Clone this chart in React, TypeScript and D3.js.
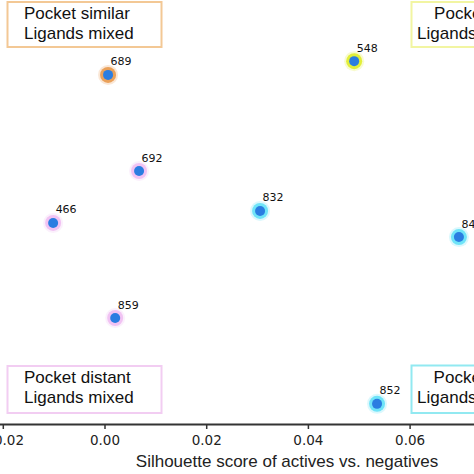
import * as d3 from 'd3';

// silhouette of actives vs. negatives (x) and pocket similarity score (y) per target
const targetIds = ['689', '548', '692', '466', '832', '849', '859', '852'];
const activesScore = [0.0006, 0.049, 0.0067, -0.0102, 0.0305, 0.0696, 0.002, 0.0535];
const pocketScore = [0.0388, 0.0427, 0.0116, -0.0031, 0.0003, -0.0071, -0.030, -0.0543];
const targetGroup = ['simMixed', 'simSep', 'distMixed', 'distMixed', 'distSep', 'distSep', 'distMixed', 'distSep'];

const xTicks = [-0.02, 0, 0.02, 0.04, 0.06];

const groupKeys = ['simMixed', 'simSep', 'distMixed', 'distSep'];
const groupLines = [
  ['Pocket similar', 'Ligands mixed'],
  ['Pocket similar', 'Ligands separated'],
  ['Pocket distant', 'Ligands mixed'],
  ['Pocket distant', 'Ligands separated'],
];

const ringColor: Record<string, string> = {
  simMixed: '#eaa15a',
  simSep: '#e2ef3a',
  distMixed: '#f1c3f3',
  distSep: '#6fe4f8',
};
const boxColor: Record<string, string> = {
  simMixed: '#f3c895',
  simSep: '#f2f5a2',
  distMixed: '#f2cdf2',
  distSep: '#92e9f1',
};

const W = 474;
const H = 474;
const axisY = 424.5;

export default function App() {
  const x = d3.scaleLinear().domain([-0.02, 0.06]).range([3.3, 410.1]);
  const y = d3.scaleLinear().domain([-0.06, 0.06]).range([424, 0]);
  const sans = 'Liberation Sans, Arial, sans-serif';
  const dejavu = 'DejaVu Sans, sans-serif';

  // quadrant boxes: left ones flush at the plot's left, right ones past the 0.06 tick
  const boxLayout: Record<string, { x: number; y: number; w: number; h: number; anchor: string; tx: number }> = {
    simMixed: { x: 7.5, y: 2, w: 154, h: 45, anchor: 'start', tx: 24 },
    simSep: { x: 411.5, y: 2, w: 152, h: 45, anchor: 'middle', tx: 487 },
    distMixed: { x: 7.5, y: 366, w: 154, h: 47, anchor: 'start', tx: 24 },
    distSep: { x: 411.5, y: 365.5, w: 152, h: 47.5, anchor: 'middle', tx: 487 },
  };

  return (
    <svg
      width={W}
      height={H}
      style={{ position: 'absolute', top: 0, left: 0, background: '#fff' }}
    >
      {/* quadrant legend boxes */}
      {groupKeys.map((k, i) => {
        const b = boxLayout[k];
        return (
          <g key={k}>
            <rect x={b.x} y={b.y} width={b.w} height={b.h} fill="#fff" stroke={boxColor[k]} strokeWidth={2} />
            {groupLines[i].map((line, j) => (
              <text
                key={j}
                x={b.tx}
                y={b.y + 17 + j * 20}
                fontFamily={sans}
                fontSize={17}
                textAnchor={b.anchor}
                fill="#111"
              >
                {line}
              </text>
            ))}
          </g>
        );
      })}

      {/* points */}
      {targetIds.map((id, i) => {
        const cx = x(activesScore[i]);
        const cy = y(pocketScore[i]);
        const c = ringColor[targetGroup[i]];
        return (
          <g key={id}>
            <circle cx={cx} cy={cy} r={10} fill={c} opacity={0.25} />
            <circle cx={cx} cy={cy} r={8} fill={c} />
            <circle cx={cx} cy={cy} r={5} fill="#2a7de1" />
            <text x={cx + 2.5} y={cy - 9.5} fontFamily={dejavu} fontSize={11} fill="#111">
              {id}
            </text>
          </g>
        );
      })}

      {/* x axis */}
      <line x1={0} x2={W} y1={axisY} y2={axisY} stroke="#333" strokeWidth={2} />
      {xTicks.map((t) => (
        <g key={t} transform={`translate(${x(t)},${axisY})`}>
          <line y1={0} y2={4.5} stroke="#333" strokeWidth={1.5} />
          <text y={20.5} textAnchor="middle" fontFamily={dejavu} fontSize={13.5} fill="#222">
            {d3.format('.2f')(t).replace('-', '\u2212')}
          </text>
        </g>
      ))}
      <text x={287} y={467} textAnchor="middle" fontFamily={sans} fontSize={17} fill="#222">
        Silhouette score of actives vs. negatives
      </text>
    </svg>
  );
}
